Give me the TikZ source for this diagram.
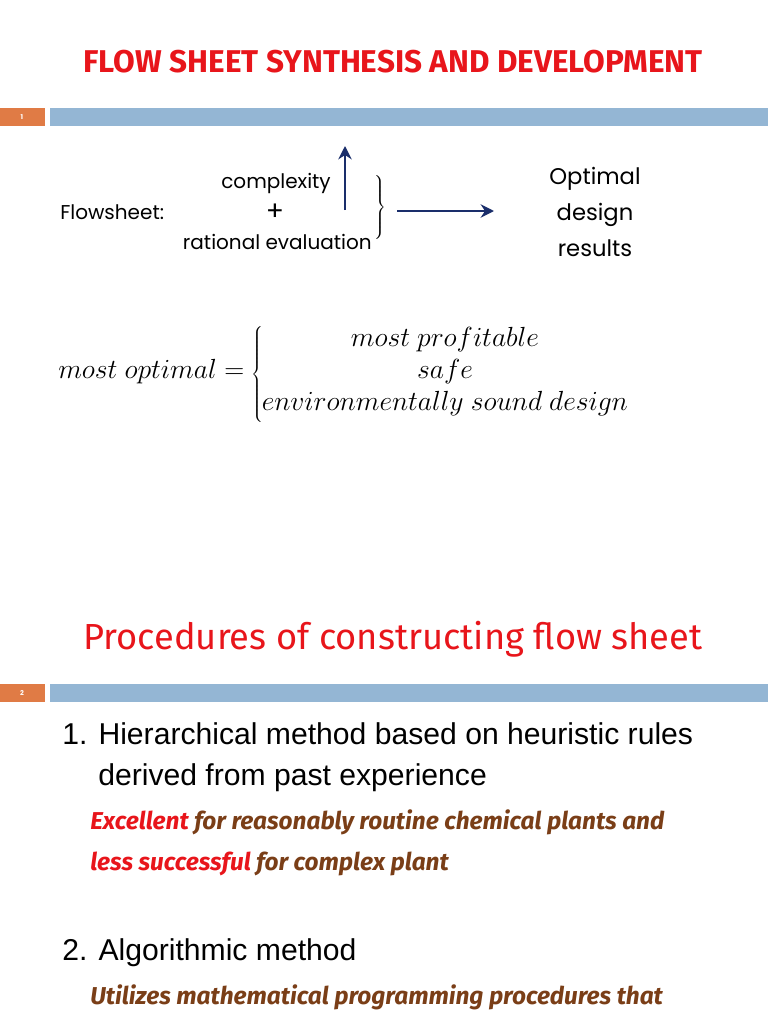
\documentclass[tikz,border=0pt]{standalone}
\usepackage{fontspec}
\setmainfont{Poppins}
\newfontfamily\bodyf{Liberation Sans}
\newfontfamily\headf{Fira Sans}
\usetikzlibrary{arrows.meta}
\definecolor{hred}{HTML}{E8151B}
\definecolor{brn}{HTML}{7A3E17}
\definecolor{org}{HTML}{E07B45}
\definecolor{barb}{HTML}{94B6D4}
\definecolor{navy}{HTML}{1A2E6B}
\begin{document}
\begin{tikzpicture}[x=0.75pt,y=-0.75pt,
  t/.style={inner sep=0pt,font=\fontsize{15}{18}\selectfont},
  body/.style={inner sep=0pt,anchor=base west,font=\bodyf\fontsize{22.6}{26}\selectfont},
  note/.style={inner sep=0pt,anchor=base west,text=brn,font=\headf\bfseries\itshape\fontsize{18.3}{22}\selectfont},
  mth/.style={inner sep=0pt,font=\fontsize{20}{24}\selectfont},
  arr/.style={navy,line width=2pt,-{Stealth[length=10pt,width=10pt]}}]
\clip (0,0) rectangle (768,1024);
\fill[white] (0,0) rectangle (768,1024);
\node[inner sep=0pt,text=hred,font=\headf\bfseries\fontsize{23.6}{26}\selectfont] (title) at (393,62) {FLOW SHEET SYNTHESIS AND DEVELOPMENT};
\fill[org] (0,108) rectangle (45,126);
\node[inner sep=0pt,text=white,font=\bfseries\tiny] (n1) at (22,117) {1};
\fill[barb] (50,108) rectangle (768,126);
\node[t,anchor=base west] (fs) at (60,219) {Flowsheet:};
\node[t,anchor=base east] (cx) at (331,188) {complexity};
\node[t,font=\fontsize{20}{20}\selectfont] (pl) at (275,212) {+};
\node[t,anchor=base east] (re) at (372,249) {rational evaluation};
\coordinate (ua) at (345,210);
\coordinate (ub) at (345,146);
\draw[arr] (ua) -- (ub);
\node[inner sep=0pt,font=\fontsize{17}{17}\selectfont,anchor=west] (br) at (373,206) {$\left.\vphantom{\rule{0pt}{30pt}}\right\}$};
\coordinate (ra) at (397,211);
\coordinate (rb) at (494,211);
\draw[arr] (ra) -- (rb);
\node[inner sep=0pt,align=center,font=\fontsize{17}{27}\selectfont] (opt) at (595,212) {Optimal\\design\\results};
\node[mth,anchor=west] (mo) at (58,372) {$most\ optimal =$};
\node[mth] (m1) at (445,340) {$most\ profitable$};
\node[mth] (m2) at (445,372) {$safe$};
\node[mth] (m3) at (445,404) {$environmentally\ sound\ design$};
\node[inner sep=0pt,font=\fontsize{20}{20}\selectfont,anchor=west] (lb) at (251,374) {$\left\{\vphantom{\rule{0pt}{42pt}}\right.$};
\node[inner sep=0pt,text=hred,font=\headf\fontsize{27.2}{32}\selectfont] (t2) at (393,639) {Procedures of constructing flow sheet};
\fill[org] (0,684) rectangle (45,702);
\node[inner sep=0pt,text=white,font=\bfseries\tiny] (n2) at (22,693) {2};
\fill[barb] (50,684) rectangle (768,702);
\node[body] (h1) at (62,744) {1. Hierarchical method based on heuristic rules};
\node[body] (h1b) at (98,785) {derived from past experience};
\node[note] (e1) at (90,829) {\textcolor{hred}{Excellent} for reasonably routine chemical plants and};
\node[note] (e2) at (90,870) {\textcolor{hred}{less successful} for complex plant};
\node[body] (h2) at (62,960) {2. Algorithmic method};
\node[note] (u1) at (90,1004) {Utilizes mathematical programming procedures that};
\node[note] (u2) at (90,1045) {include optimization techniques};
\end{tikzpicture}
\end{document}
